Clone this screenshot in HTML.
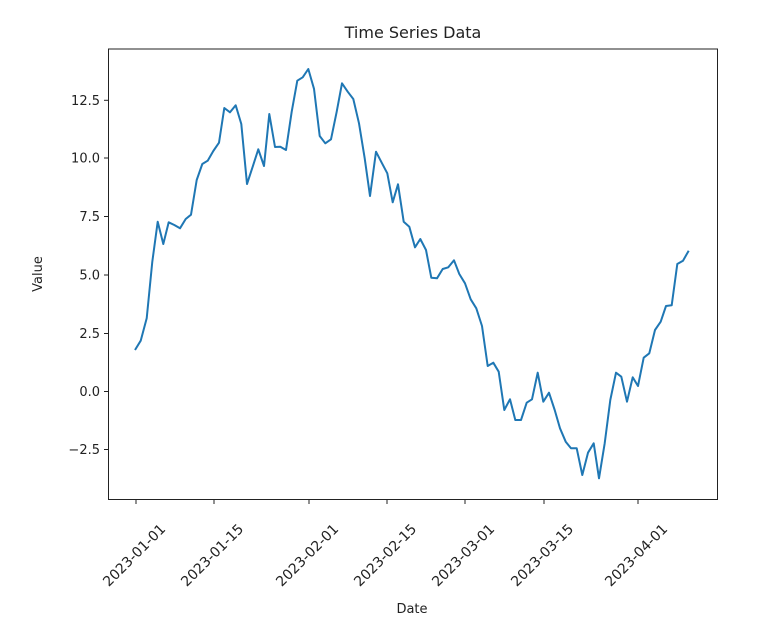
<!DOCTYPE html>
<html><head><meta charset="utf-8"><style>body{margin:0;background:#fff}svg{display:block}text{font-family:"DejaVu Sans","Liberation Sans",sans-serif;fill:#222}</style></head><body>
<svg width="769" height="634" viewBox="0 0 769 634" xmlns="http://www.w3.org/2000/svg">
<rect x="108.5" y="49" width="609" height="450.5" fill="none" stroke="#222" stroke-width="1"/>
<g stroke="#222" stroke-width="1">
<line x1="104" y1="100.3" x2="108.5" y2="100.3"/><line x1="104" y1="158" x2="108.5" y2="158"/><line x1="104" y1="216.5" x2="108.5" y2="216.5"/><line x1="104" y1="275" x2="108.5" y2="275"/><line x1="104" y1="333.5" x2="108.5" y2="333.5"/><line x1="104" y1="391.5" x2="108.5" y2="391.5"/><line x1="104" y1="449.5" x2="108.5" y2="449.5"/>
<line x1="136" y1="499.5" x2="136" y2="504"/><line x1="214" y1="499.5" x2="214" y2="504"/><line x1="309" y1="499.5" x2="309" y2="504"/><line x1="387" y1="499.5" x2="387" y2="504"/><line x1="465" y1="499.5" x2="465" y2="504"/><line x1="544" y1="499.5" x2="544" y2="504"/><line x1="638" y1="499.5" x2="638" y2="504"/>
</g>
<g font-size="13" text-anchor="end">
<text x="100" y="105">12.5</text><text x="100" y="162.5">10.0</text><text x="100" y="221">7.5</text><text x="100" y="279.5">5.0</text><text x="100" y="338">2.5</text><text x="100" y="396">0.0</text><text x="100" y="454">−2.5</text>
</g>
<g font-size="14" text-anchor="middle">
<text transform="translate(134,555) rotate(-45)" dy="5">2023-01-01</text>
<text transform="translate(212,555) rotate(-45)" dy="5">2023-01-15</text>
<text transform="translate(307,555) rotate(-45)" dy="5">2023-02-01</text>
<text transform="translate(385,555) rotate(-45)" dy="5">2023-02-15</text>
<text transform="translate(463,555) rotate(-45)" dy="5">2023-03-01</text>
<text transform="translate(542,555) rotate(-45)" dy="5">2023-03-15</text>
<text transform="translate(636,555) rotate(-45)" dy="5">2023-04-01</text>
</g>
<text x="413" y="38" font-size="16" text-anchor="middle">Time Series Data</text>
<text x="412" y="613" font-size="13" text-anchor="middle">Date</text>
<text transform="translate(42,274) rotate(-90)" font-size="13" text-anchor="middle">Value</text>
<polyline fill="none" stroke="#1f77b4" stroke-width="2" stroke-linejoin="round" points="135,350 140.7,340.7 146.7,318.3 152.3,261.7 157.7,221.7 163.3,244 168.7,222.3 174.3,225 180,228.3 185.7,219 191,214.7 196.7,180 202.3,164 207.7,160.7 213.3,151 219,142.7 224.3,108 230,112.3 235.7,105.3 241.3,124 247,184 252.7,166.7 258.3,149.3 264,166 269.3,114 275,147 280.3,146.7 286,150 291.7,111.7 297.3,80.7 302.7,77.3 308.3,69 314,88.8 319.7,136 325.3,143.3 331,139.3 336.7,111.7 342,83.3 347.7,91.7 353.3,99 359,123.3 364.7,158.3 370,196 376,151.7 381.7,162.7 387.3,173.3 392.7,202.3 398,184.3 403.7,221.7 409.3,226.7 415,247.3 420.3,239 426,250 431.3,277.7 437,278.3 442.7,269 448.3,267.3 454,260.3 459.3,274 465,283.3 470.7,299.3 476.3,308.3 482,326 487.7,366 493.3,362.7 498.7,371.7 504.3,410 510,399.3 515.3,420 521,420 526.7,402.7 532,399.3 537.7,372.7 543.3,401.7 549,392.7 554.7,410 560,428.3 565.7,441.7 571,448.3 576.7,448.3 582.3,475 588,452.7 593.7,443.3 599,478.3 604.7,443.3 610.3,400 616,372.7 621.3,376.7 627,401.7 632.7,377.3 638,386 643.7,357.7 649.3,353.3 655,330 660.7,321.7 666,306 671.7,305.3 677.3,264 683,260.7 688.7,250.7"/>
</svg>
</body></html>
